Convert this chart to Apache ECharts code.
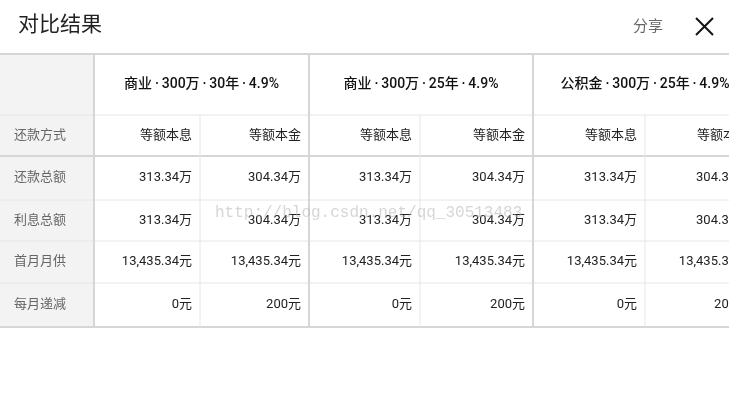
<!DOCTYPE html>
<html>
<head>
<meta charset="utf-8">
<script src="https://cdn.jsdelivr.net/npm/echarts@6/dist/echarts.min.js"></script>
<style>html,body{margin:0;padding:0;background:#fff}#main{width:729px;height:404px}</style>
</head>
<body>
<div id="main"></div>
<script>
var title = '对比结果';
var groups = ['商业·300万·30年·4.9%', '商业·300万·25年·4.9%', '公积金·300万·25年·4.9%'];
var methods = ['等额本息', '等额本金'];
var methodLabel = '还款方式';
var rowLabels = ['还款总额', '利息总额', '首月月供', '每月递减'];
var totalPay = ['313.34万', '304.34万', '313.34万', '304.34万', '313.34万', '304.34万'];
var interest = ['313.34万', '304.34万', '313.34万', '304.34万', '313.34万', '304.34万'];
var firstMonth = ['13,435.34元', '13,435.34元', '13,435.34元', '13,435.34元', '13,435.34元', '13,435.34元'];
var monthlyDrop = ['0元', '200元', '0元', '200元', '0元', '200元'];
var rows = [totalPay, interest, firstMonth, monthlyDrop];

var chart = echarts.init(document.getElementById('main'));

// 列边界与行边界
var colX = [94, 200, 309, 420, 533, 645, 757];
var rowY = [54, 115, 156, 200, 241, 283, 327];
var FONT = 'Roboto, "Noto Sans CJK SC", sans-serif';
var els = [];

els.push({ type: 'rect', shape: { x: 0, y: 54, width: 94, height: 273 }, style: { fill: '#f3f3f3' } });

function line(x1, y1, x2, y2, w, c) {
    els.push({ type: 'line', shape: { x1: x1, y1: y1, x2: x2, y2: y2 }, style: { stroke: c, lineWidth: w } });
}
function text(t, x, y, opt) {
    els.push({ type: 'text', x: x, y: y, style: Object.assign({ text: t, font: '13px ' + FONT, fill: '#222', align: 'right', verticalAlign: 'middle' }, opt || {}) });
}

// 横线
line(0, 54, 729, 54, 2, '#d6d6d6');
line(0, 115, 729, 115, 1, '#e6e6e6');
line(0, 156, 729, 156, 2, '#d6d6d6');
line(0, 200, 729, 200, 1, '#e6e6e6');
line(0, 241, 729, 241, 1, '#e6e6e6');
line(0, 283, 729, 283, 1, '#e6e6e6');
line(0, 327, 729, 327, 2, '#d6d6d6');
// 竖线
[94, 309, 533].forEach(function (x) { line(x, 54, x, 327, 2, '#d6d6d6'); });
[200, 420, 645].forEach(function (x) { line(x, 115, x, 327, 1, '#e6e6e6'); });

text(title, 18, 26, { font: '21px ' + FONT, align: 'left', fill: '#222' });
text('分享', 663, 27, { font: '15px ' + FONT, fill: '#666' });
line(696, 18, 713, 35, 2, '#111');
line(713, 18, 696, 35, 2, '#111');

groups.forEach(function (g, i) {
    text(g.split('·').join('\u2009·\u2009'), (colX[i * 2] + colX[i * 2 + 2]) / 2, 84, { align: 'center', font: '500 14px ' + FONT, fill: '#111' });
});
text(methodLabel, 14, 136, { align: 'left', fill: '#666' });
for (var c = 0; c < 6; c++) {
    text(methods[c % 2], colX[c + 1] - 8, 136);
}
rows.forEach(function (r, ri) {
    var cy = (rowY[ri + 2] + rowY[ri + 3]) / 2;
    text(rowLabels[ri], 14, cy, { align: 'left', fill: '#666' });
    r.forEach(function (v, c) { text(v, colX[c + 1] - 8, cy); });
});

text('http://blog.csdn.net/qq_30513483', 215, 213, { align: 'left', font: '16px "Liberation Mono", monospace', fill: 'rgba(180,180,180,0.55)' });

chart.setOption({ animation: false, graphic: { elements: els } });
</script>
</body>
</html>
